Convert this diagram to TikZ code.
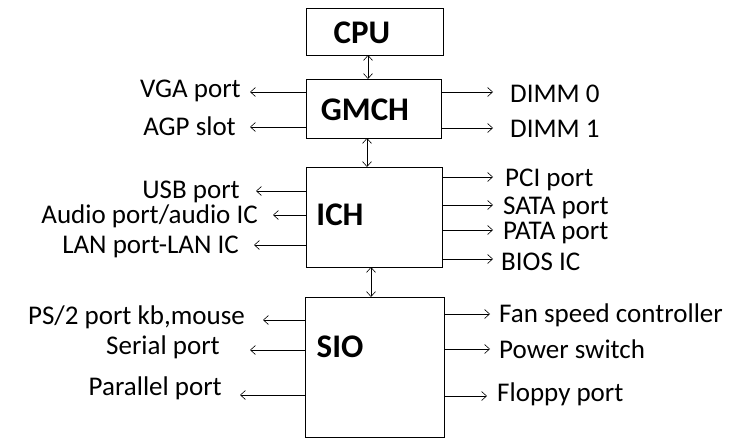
\documentclass[tikz,border=0pt]{standalone}
\usepackage{fontspec}
\setmainfont{Carlito}
\usetikzlibrary{arrows.meta}
\begin{document}
\begin{tikzpicture}[x=1pt,y=-1pt,
  box/.style={draw,line width=0.8pt,inner sep=0},
  big/.style={font=\fontsize{33}{36}\selectfont\bfseries,inner sep=0},
  lab/.style={font=\fontsize{27}{29}\selectfont,inner sep=0},
  ar/.style={->,>={Straight Barb[length=5pt,width=9pt]},line width=0.6pt},
  dar/.style={<->,>={Straight Barb[length=5pt,width=9pt]},line width=0.6pt}]
\useasboundingbox (0,0) rectangle (744,442);
\node[box,minimum width=137,minimum height=47] (cpu) at (374.5,31.5) {};
\node[box,minimum width=135,minimum height=59] (gmch) at (373.5,108.5) {};
\node[box,minimum width=136,minimum height=100] (ich) at (374,217) {};
\node[box,minimum width=139,minimum height=140] (sio) at (374.5,367) {};
\node[big] (tcpu) at (362,33) {CPU};
\node[big] (tgmch) at (365,110) {GMCH};
\node[big] (tich) at (340,215) {ICH};
\node[big] (tsio) at (340,347) {SIO};
\draw[dar] (368,55) -- (368,79);
\draw[dar] (367,138) -- (367,167);
\draw[dar] (371,267) -- (371,297);
\coordinate (g1) at (306,92); \coordinate (g1e) at (250,92);
\coordinate (g2) at (306,127); \coordinate (g2e) at (250,127);
\coordinate (g3) at (441,92); \coordinate (g3e) at (493,92);
\coordinate (g4) at (441,128); \coordinate (g4e) at (493,128);
\draw[ar] (g1) -- (g1e); \draw[ar] (g2) -- (g2e);
\draw[ar] (g3) -- (g3e); \draw[ar] (g4) -- (g4e);
\coordinate (i1) at (306,191); \coordinate (i1e) at (256,191);
\coordinate (i2) at (306,215); \coordinate (i2e) at (273,215);
\coordinate (i3) at (306,245); \coordinate (i3e) at (254,245);
\draw[ar] (i1) -- (i1e); \draw[ar] (i2) -- (i2e); \draw[ar] (i3) -- (i3e);
\coordinate (i4) at (442,177); \coordinate (i4e) at (493,177);
\coordinate (i5) at (442,205); \coordinate (i5e) at (493,205);
\coordinate (i6) at (442,230); \coordinate (i6e) at (493,230);
\coordinate (i7) at (442,259); \coordinate (i7e) at (493,259);
\draw[ar] (i4) -- (i4e); \draw[ar] (i5) -- (i5e); \draw[ar] (i6) -- (i6e); \draw[ar] (i7) -- (i7e);
\coordinate (s1) at (305,320); \coordinate (s1e) at (263,320);
\coordinate (s2) at (305,350); \coordinate (s2e) at (250,350);
\coordinate (s3) at (305,395); \coordinate (s3e) at (240,395);
\draw[ar] (s1) -- (s1e); \draw[ar] (s2) -- (s2e); \draw[ar] (s3) -- (s3e);
\coordinate (s4) at (444,314); \coordinate (s4e) at (490,314);
\coordinate (s5) at (444,349); \coordinate (s5e) at (490,349);
\coordinate (s6) at (444,396); \coordinate (s6e) at (487,396);
\draw[ar] (s4) -- (s4e); \draw[ar] (s5) -- (s5e); \draw[ar] (s6) -- (s6e);
\node[lab,anchor=east] (l1) at (241,91) {VGA port};
\node[lab,anchor=east] (l2) at (236,126) {AGP slot};
\node[lab,anchor=west] (l3) at (510,94) {DIMM 0};
\node[lab,anchor=west] (l4) at (510,129) {DIMM 1};
\node[lab,anchor=east] (l5) at (240,192) {USB port};
\node[lab,anchor=east] (l6) at (258,216) {Audio port/audio IC};
\node[lab,anchor=east] (l7) at (239,247) {LAN port-LAN IC};
\node[lab,anchor=west] (l8) at (505,180) {PCI port};
\node[lab,anchor=west] (l9) at (503,208) {SATA port};
\node[lab,anchor=west] (l10) at (503,233) {PATA port};
\node[lab,anchor=west] (l11) at (501,262) {BIOS IC};
\node[lab,anchor=east] (l12) at (245,317) {PS/2 port kb,mouse};
\node[lab,anchor=east] (l13) at (220,347) {Serial port};
\node[lab,anchor=east] (l14) at (222,388) {Parallel port};
\node[lab,anchor=west] (l15) at (499,315) {Fan speed controller};
\node[lab,anchor=west] (l16) at (499,349) {Power switch};
\node[lab,anchor=west] (l17) at (497,394) {Floppy port};
\end{tikzpicture}
\end{document}
